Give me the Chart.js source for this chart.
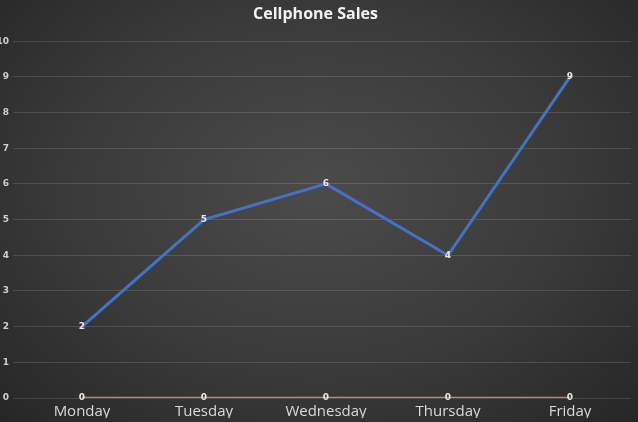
<!DOCTYPE html>
<html>
<head>
<meta charset="utf-8">
<script src="https://cdn.jsdelivr.net/npm/chart.js@4"></script>
<style>
  html, body { margin: 0; padding: 0; }
  body { width: 638px; height: 422px; background: radial-gradient(ellipse at 50% 45%, #4b4b4b 0%, #3a3a3a 55%, #262626 100%); }
  #wrap { width: 638px; height: 422px; }
</style>
</head>
<body>
<div id="wrap"><canvas id="salesChart"></canvas></div>
<script>
// Chart data
var days = ["Monday", "Tuesday", "Wednesday", "Thursday", "Friday"];
var sales = [2, 5, 6, 4, 9];
var baseline = [0, 0, 0, 0, 0];
var yTicks = [0, 1, 2, 3, 4, 5, 6, 7, 8, 9, 10];

// Draws each point's value on top of it
var pointLabels = {
    id: "pointLabels",
    afterDatasetsDraw: function(chart) {
        var ctx = chart.ctx;
        ctx.save();
        ctx.font = "bold 9px 'DejaVu Sans'";
        ctx.fillStyle = "#e8e8e8";
        ctx.textAlign = "center";
        ctx.textBaseline = "middle";
        chart.data.datasets.forEach(function(ds, i) {
            chart.getDatasetMeta(i).data.forEach(function(pt, j) {
                ctx.fillText(ds.data[j], pt.x, pt.y);
            });
        });
        ctx.restore();
    }
};

var ctx = document.getElementById("salesChart").getContext("2d");
new Chart(ctx, {
    type: "line",
    data: {
        labels: days,
        datasets: [{
            data: sales,
            borderColor: "#4472c4",
            borderWidth: 3,
            pointRadius: 0,
            tension: 0
        }, {
            data: baseline,
            borderColor: "#ed7d31",
            borderWidth: 2.5,
            pointRadius: 0,
            tension: 0
        }]
    },
    options: {
        responsive: true,
        maintainAspectRatio: false,
        animation: false,
        layout: { padding: { left: 0, right: 7, top: 0, bottom: 4 } },
        plugins: {
            legend: { display: false },
            tooltip: { enabled: false },
            title: {
                display: true,
                text: "Cellphone Sales",
                color: "#f2f2f2",
                font: { size: 16, weight: "bold", family: "'Open Sans'" },
                padding: { top: 5, bottom: 17 }
            }
        },
        scales: {
            x: {
                offset: true,
                grid: { display: false },
                border: { display: false },
                ticks: { color: "#d9d9d9", font: { size: 15, family: "'Open Sans'" }, padding: -3 }
            },
            y: {
                min: 0,
                max: 10,
                afterBuildTicks: function(axis) {
                    axis.ticks = yTicks.map(function(v) { return { value: v }; });
                },
                afterFit: function(axis) { axis.width = 21; },
                grid: { color: "rgba(255,255,255,0.13)", lineWidth: 1 },
                border: { display: false },
                ticks: { color: "#d0d0d0", font: { size: 9, weight: "bold", family: "'DejaVu Sans'" }, padding: 4 }
            }
        }
    },
    plugins: [pointLabels]
});
</script>
</body>
</html>
